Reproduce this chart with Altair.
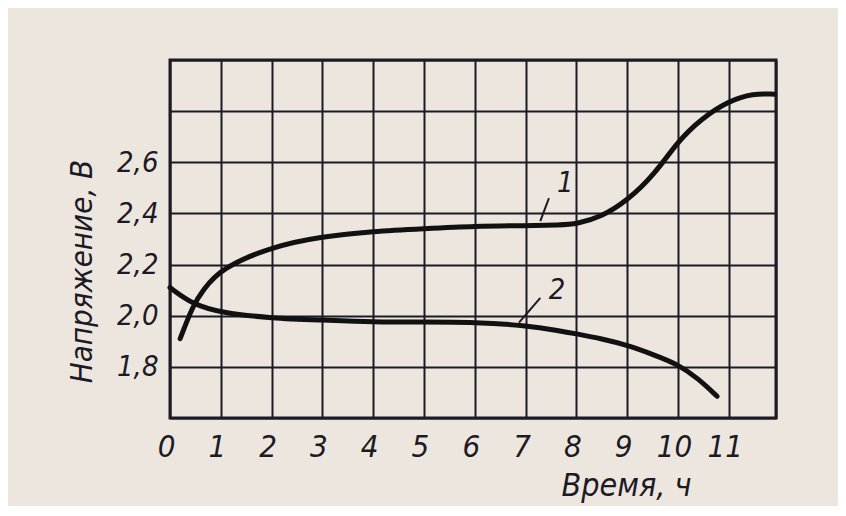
import altair as alt
import pandas as pd

# Curve 1 (charge) and curve 2 (discharge)
t1 = [0.2, 0.45, 0.65, 1.0, 2.0, 3.0, 4.0, 5.0, 6.0, 7.0, 7.68, 8.0, 8.5, 9.0, 9.53, 10.0, 10.47, 11.0, 11.48, 11.9]
v1 = [1.91, 2.04, 2.10, 2.185, 2.27, 2.31, 2.33, 2.34, 2.35, 2.352, 2.355, 2.358, 2.387, 2.45, 2.55, 2.683, 2.772, 2.84, 2.87, 2.866]
t2 = [0.0, 0.45, 1.0, 2.0, 3.0, 4.0, 5.0, 6.0, 7.0, 7.68, 8.0, 8.5, 9.0, 9.53, 10.0, 10.4, 10.77]
v2 = [2.11, 2.044, 2.012, 1.99, 1.983, 1.975, 1.975, 1.975, 1.962, 1.941, 1.929, 1.91, 1.885, 1.847, 1.81, 1.754, 1.685]

label_text = ["1", "2"]
label_t = [7.78, 7.62]
label_v = [2.52, 2.10]
leader_t = [7.29, 6.87]
leader_v = [2.37, 1.973]
leader_t2 = [7.46, 7.29]
leader_v2 = [2.46, 2.07]

x_ticks = list(range(0, 12)) + [11.93]
y_ticks = [1.6, 1.8, 2.0, 2.2, 2.4, 2.6, 2.8, 3.0]

FONT = "DejaVu Sans Condensed, Liberation Sans Narrow, sans-serif"
INK = "#1c1a24"
BG = "#ede6df"

curves = pd.DataFrame(
    [{"t": t, "v": v, "c": "1"} for t, v in zip(t1, v1)]
    + [{"t": t, "v": v, "c": "2"} for t, v in zip(t2, v2)]
)
labels = pd.DataFrame({"text": label_text, "t": label_t, "v": label_v})
leaders = pd.DataFrame({"t": leader_t, "v": leader_v, "t2": leader_t2, "v2": leader_v2})

xscale = alt.Scale(domain=[0, 11.93], nice=False, zero=False)
yscale = alt.Scale(domain=[1.6, 3.0], nice=False, zero=False)

xaxis = alt.Axis(
    values=x_ticks,
    labelExpr="datum.value > 11.5 ? '' : format(datum.value, 'd')",
    title="Время,  ч",
    titleX=456,
    titleY=77,
    titleBaseline="alphabetic",
    titleFont=FONT,
    titleFontSize=32,
    titleFontStyle="italic",
    titleFontWeight="normal",
    titleColor=INK,
    labelFont=FONT,
    labelFontSize=31,
    labelFontStyle="italic",
    labelColor=INK,
    labelPadding=14,
    labelOffset=-4,
    labelFlush=False,
    ticks=False,
    domain=False,
    grid=True,
    gridColor=INK,
    gridWidth=2,
    gridOpacity=1,
)
yaxis = alt.Axis(
    values=y_ticks,
    labelExpr="datum.value > 1.79 && datum.value < 2.61 ? replace(format(datum.value, '.1f'), '.', ',') : ''",
    title="Напряжение,  В",
    titleX=-88,
    titleY=211,
    titleAngle=270,
    titleAlign="center",
    titleBaseline="middle",
    titleFont=FONT,
    titleFontSize=31,
    titleFontStyle="italic",
    titleFontWeight="normal",
    titleColor=INK,
    labelFont=FONT,
    labelFontSize=29,
    labelFontStyle="italic",
    labelColor=INK,
    labelPadding=12,
    labelFlush=False,
    ticks=False,
    domain=False,
    grid=True,
    gridColor=INK,
    gridWidth=2,
    gridOpacity=1,
)

lines = (
    alt.Chart(curves)
    .mark_line(interpolate="basis", strokeWidth=5, color="#111111", strokeCap="round")
    .encode(
        x=alt.X("t:Q", scale=xscale, axis=xaxis),
        y=alt.Y("v:Q", scale=yscale, axis=yaxis),
        detail="c:N",
    )
)

rules = (
    alt.Chart(leaders)
    .mark_rule(strokeWidth=2, color=INK)
    .encode(x="t:Q", y="v:Q", x2="t2:Q", y2="v2:Q")
)

texts = (
    alt.Chart(labels)
    .mark_text(font=FONT, fontSize=29, fontStyle="italic", color=INK)
    .encode(x="t:Q", y="v:Q", text="text:N")
)

chart = (
    alt.layer(lines, rules, texts)
    .properties(
        width=606,
        height=358,
        background=BG,
        padding={"left": 162, "top": 52, "right": 62, "bottom": 88},
        autosize=alt.AutoSizeParams(type="none"),
    )
    .configure_view(stroke=INK, strokeWidth=3)
)

chart.save("out.html", embed_options={"renderer": "svg", "actions": False})
